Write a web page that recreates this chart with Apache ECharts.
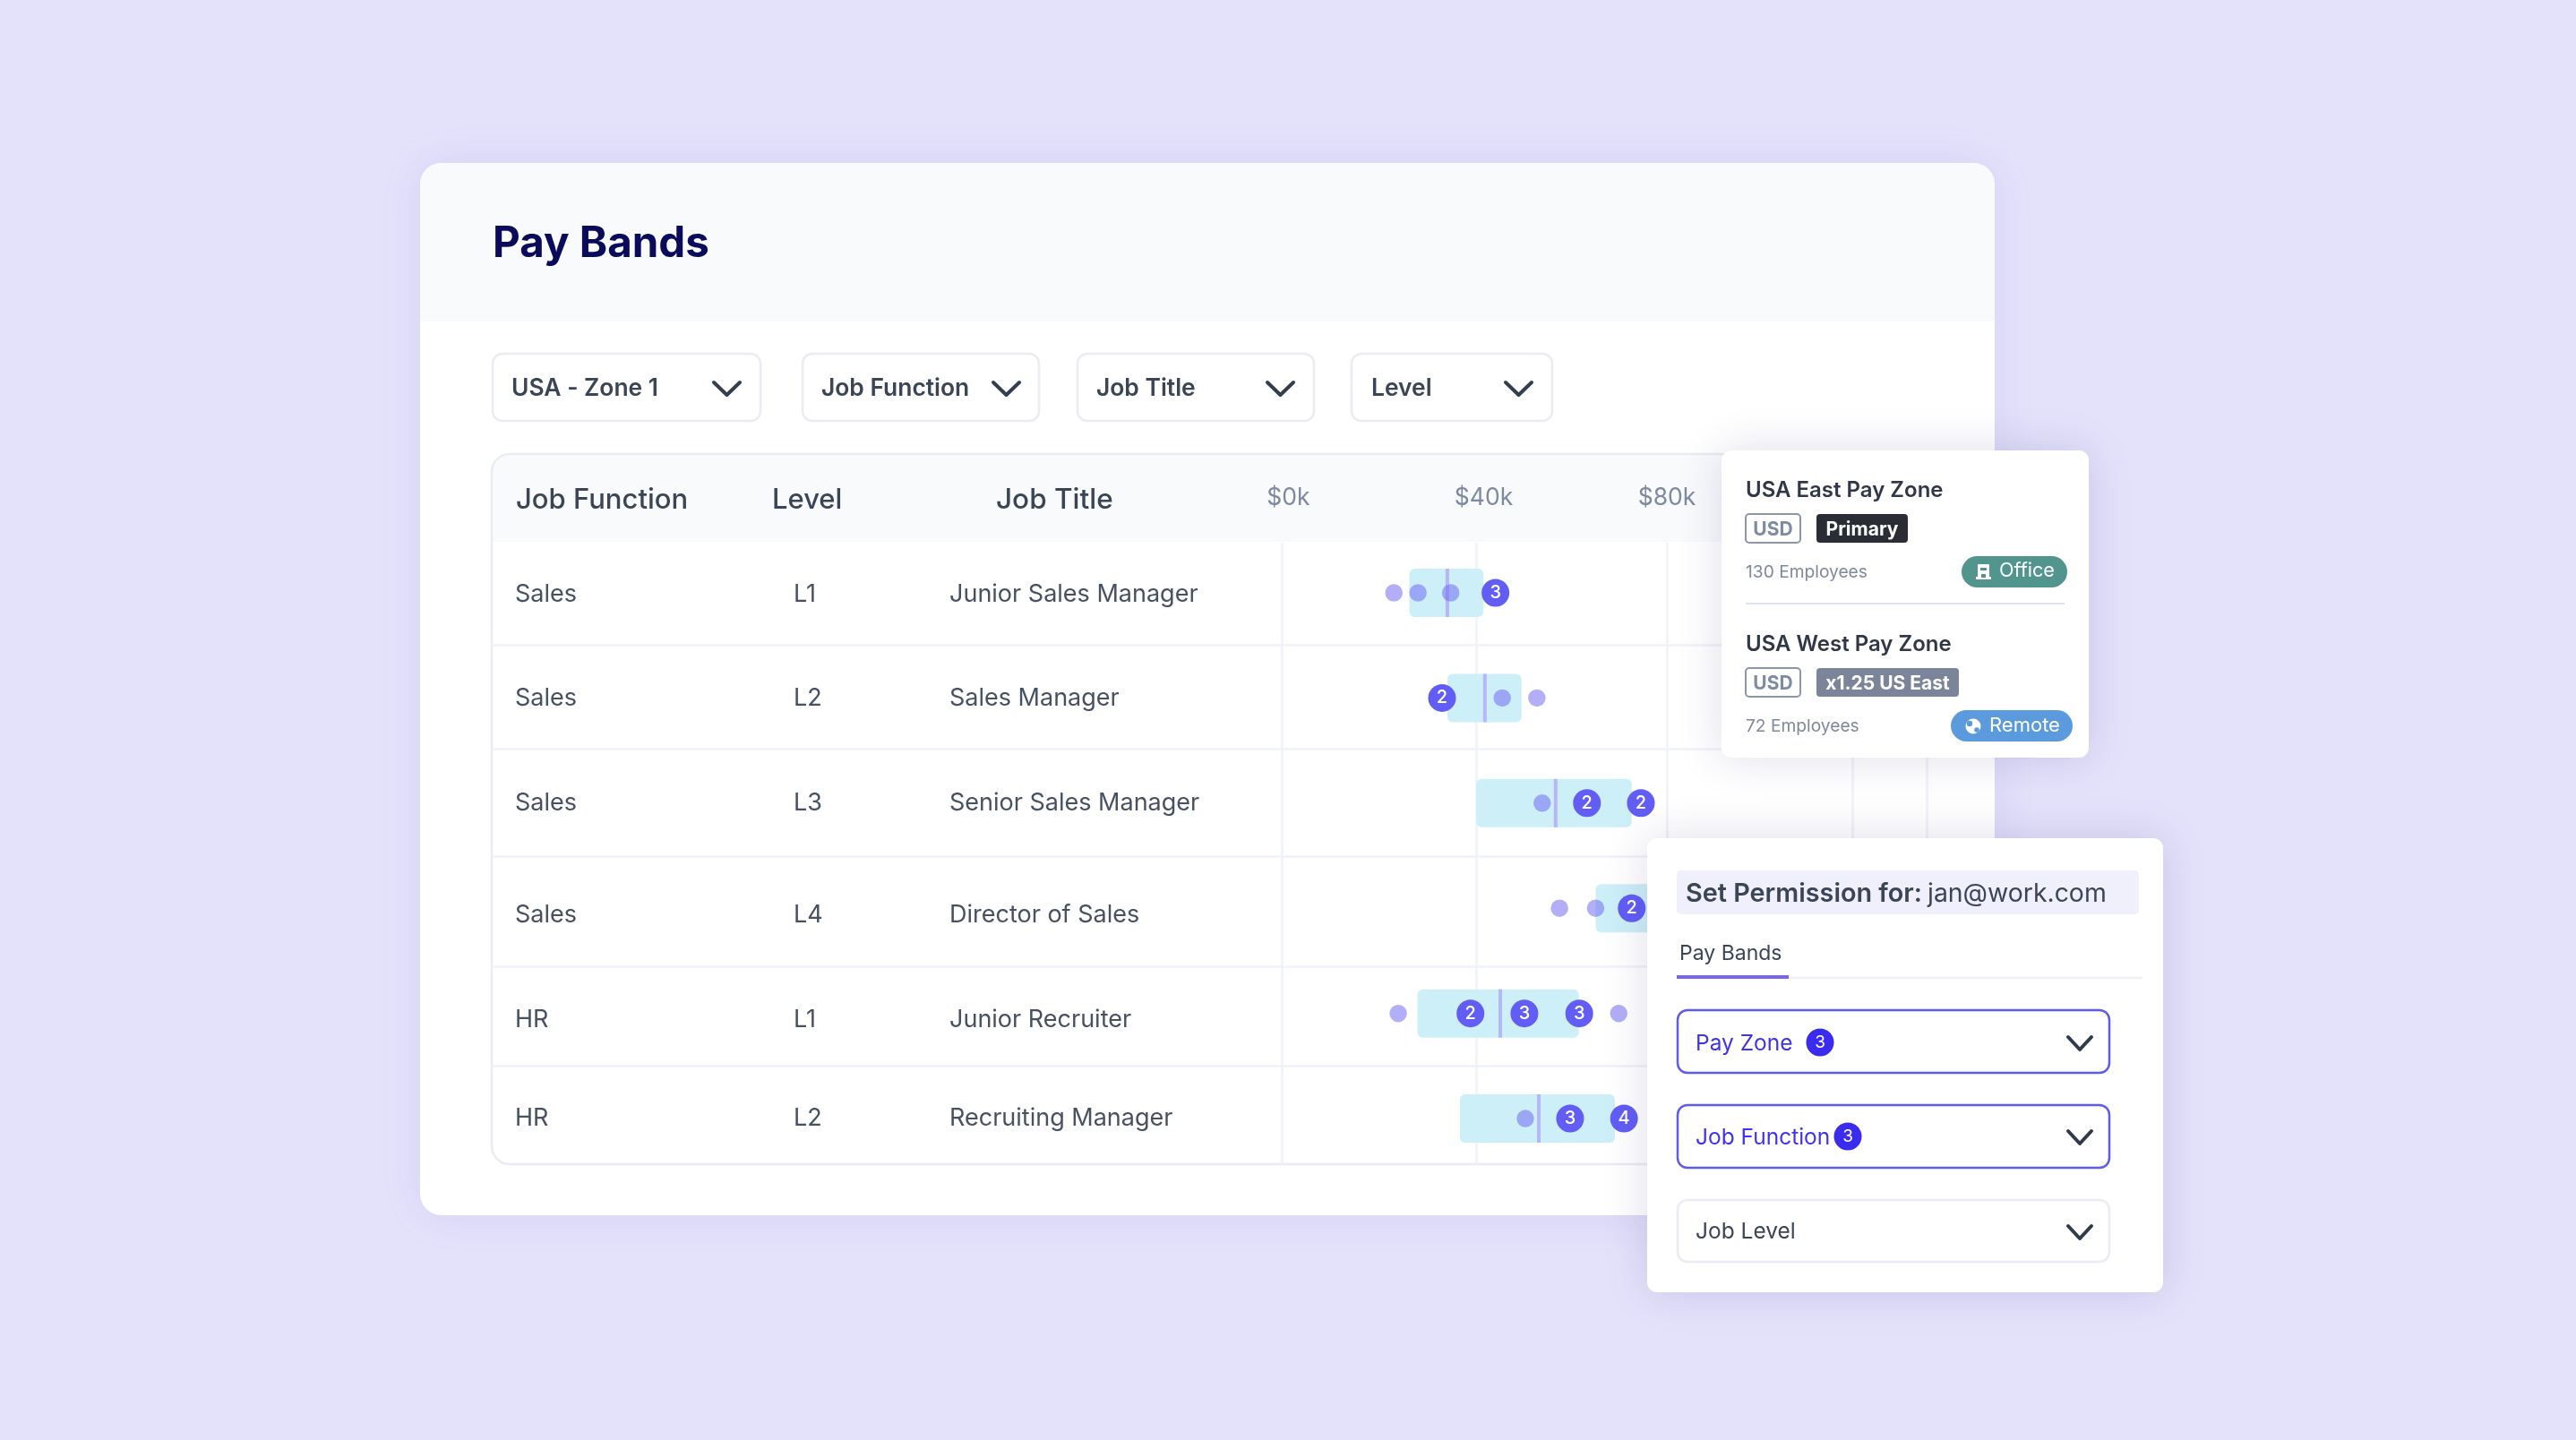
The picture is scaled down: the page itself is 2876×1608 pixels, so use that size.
<!DOCTYPE html>
<html>
<head>
<meta charset="utf-8">
<title>Pay Bands</title>
<style>
    html, body { margin: 0; padding: 0; background: #E4E2FB; }
    #chart { width: 2876px; height: 1608px; }
</style>
<script src="https://cdn.jsdelivr.net/npm/echarts@6/dist/echarts.min.js"></script>
</head>
<body>
<div id="chart"></div>
<script>
// table content
const jobFunctions = ['Sales', 'Sales', 'Sales', 'Sales', 'HR', 'HR'];
const levels = ['L1', 'L2', 'L3', 'L4', 'L1', 'L2'];
const jobTitles = ['Junior Sales Manager', 'Sales Manager', 'Senior Sales Manager', 'Director of Sales', 'Junior Recruiter', 'Recruiting Manager'];

// pay values in $k, one entry per row
const bandLow = [26.5, 34.4, 40.4, 65.2, 28.2, 37.0];
const bandHigh = [41.9, 49.8, 72.7, 97.5, 61.7, 69.2];
const medians = [34.4, 42.2, 56.9, 81.7, 45.4, 53.4];

// [value, row]
const singleDots = [[23.3, 0], [28.3, 0], [35.1, 0], [45.8, 1], [53.0, 1], [54.1, 2], [57.7, 3], [65.2, 3], [24.2, 4], [70.0, 4], [50.6, 5]];
// [value, row, count]
const countDots = [[44.4, 0, 3], [33.3, 1, 2], [63.4, 2, 2], [74.6, 2, 2], [72.7, 3, 2], [39.2, 4, 2], [50.4, 4, 3], [61.8, 4, 3], [59.9, 5, 3], [71.1, 5, 4]];

const xTicks = [0, 40, 80];
const xGridLines = [0, 40.5, 80, 118.5, 134];
const rowLines = [0.5, 1.475, 2.51, 3.55, 4.5];

const FONT = 'Inter, "Noto Sans", sans-serif';
const INK = '#3A4556';

let elements = [];
let order = 0;

function box(x1, y1, x2, y2, style, r, z) {
    elements.push({
        type: 'rect', z: z, z2: order++, silent: true,
        shape: { x: x1, y: y1, width: x2 - x1, height: y2 - y1, r: r || 0 },
        style: style
    });
}

function txt(x, y, text, font, color, z, align) {
    elements.push({
        type: 'text', z: z, z2: order++, silent: true,
        style: { x: x, y: y + 1.5, text: text, font: font + ' ' + FONT, fill: color, align: align || 'left', verticalAlign: 'middle' }
    });
}

function line(x1, y1, x2, y2, color, width, z) {
    elements.push({
        type: 'line', z: z, z2: order++, silent: true,
        shape: { x1: x1, y1: y1, x2: x2, y2: y2 },
        style: { stroke: color, lineWidth: width }
    });
}

function chevron(x1, x2, y, color, z) {
    elements.push({
        type: 'polyline', z: z, z2: order++, silent: true,
        shape: { points: [[x1, y - 7], [(x1 + x2) / 2, y + 7], [x2, y - 7]] },
        style: { stroke: color, lineWidth: 4, fill: null, lineCap: 'round', lineJoin: 'round' }
    });
}

function disc(cx, cy, r, color, z) {
    elements.push({
        type: 'circle', z: z, z2: order++, silent: true,
        shape: { cx: cx, cy: cy, r: r },
        style: { fill: color }
    });
}

function corner(cx, cy, r, start, end, color, width, z) {
    elements.push({
        type: 'arc', z: z, z2: order++, silent: true,
        shape: { cx: cx, cy: cy, r: r, startAngle: start, endAngle: end, clockwise: true },
        style: { stroke: color, lineWidth: width, fill: null }
    });
}

function drawCard() {
    box(469, 182, 2227, 1357, { fill: '#FFFFFF', shadowBlur: 50, shadowColor: 'rgba(70,60,170,0.09)' }, 24, 0);
    box(469, 182, 2227, 359, { fill: '#F9FAFC' }, [24, 24, 0, 0], 0);
    txt(550, 271.5, 'Pay Bands', '700 47.5px', '#0B0B5C', 0);

    let filters = [
        { x1: 550, x2: 849, label: 'USA - Zone 1', tx: 571, cx: 797 },
        { x1: 896, x2: 1160, label: 'Job Function', tx: 917, cx: 1109 },
        { x1: 1203, x2: 1467, label: 'Job Title', tx: 1224, cx: 1415 },
        { x1: 1509, x2: 1733, label: 'Level', tx: 1531, cx: 1681 }
    ];
    filters.forEach(function (f) {
        box(f.x1, 395, f.x2, 470, { fill: '#FFFFFF', stroke: '#E9ECF3', lineWidth: 2.5 }, 11, 0);
        txt(f.tx, 432.5, f.label, '600 26.4px', INK, 0);
        chevron(f.cx, f.cx + 29, 434, '#333E4E', 0);
    });

    // table frame, its right end is hidden by the two popups
    box(549, 507, 1960, 605, { fill: '#F9FAFC' }, [20, 0, 0, 0], 0);
    let frame = '#E9ECF3';
    line(569, 507, 1960, 507, frame, 2.5, 0);
    line(549, 527, 549, 1280, frame, 2.5, 0);
    line(569, 1300, 1900, 1300, frame, 2.5, 0);
    corner(569, 527, 20, Math.PI, Math.PI * 1.5, frame, 2.5, 0);
    corner(569, 1280, 20, Math.PI * 0.5, Math.PI, frame, 2.5, 0);

    txt(576, 557, 'Job Function', '500 31px', INK, 0);
    txt(862, 557, 'Level', '500 31px', INK, 0);
    txt(1112, 557, 'Job Title', '500 31.5px', INK, 0);

    let rowTextY = [662, 778, 895, 1020, 1137, 1247];
    rowTextY.forEach(function (y, i) {
        txt(575, y, jobFunctions[i], '400 27px', '#465162', 0);
        txt(886, y, levels[i], '400 27px', '#465162', 0);
        txt(1060, y, jobTitles[i], '400 27px', '#465162', 0);
    });
}

function tag(x1, x2, y1, label, fill, color, border, z) {
    let style = border ? { fill: '#FFFFFF', stroke: border, lineWidth: 2 } : { fill: fill };
    box(x1, y1, x2, y1 + 32, style, 4, z);
    txt((x1 + x2) / 2, y1 + 16, label, '700 21px', color, z, 'center');
}

function drawZonePopup() {
    let z = 50;
    box(1922, 503, 2332, 846, { fill: '#FFFFFF', shadowBlur: 50, shadowColor: 'rgba(50,45,120,0.16)' }, 11, z);

    txt(1949, 546, 'USA East Pay Zone', '600 24px', '#2F3848', z);
    tag(1949, 2010, 574, 'USD', null, '#7E8BA3', '#8A96AE', z);
    tag(2028, 2130, 574, 'Primary', '#2A2D36', '#FFFFFF', null, z);
    txt(1949, 638, '130 Employees', '400 19.2px', '#7D899C', z);
    box(2190, 621, 2308, 656, { fill: '#52958F' }, 17.5, z);
    box(2208, 630, 2221, 645, { fill: '#FFFFFF' }, 1, z);
    box(2206, 644, 2223, 647, { fill: '#FFFFFF' }, 0, z);
    box(2211, 634, 2218, 637, { fill: '#52958F' }, 0, z);
    box(2212, 641, 2217, 645, { fill: '#52958F' }, 0, z);
    txt(2232, 636, 'Office', '400 21.6px', '#FFFFFF', z);

    line(1949, 674, 2305, 674, '#DDE3EE', 2, z);

    txt(1949, 718, 'USA West Pay Zone', '600 24px', '#2F3848', z);
    tag(1949, 2010, 746, 'USD', null, '#7E8BA3', '#8A96AE', z);
    tag(2028, 2187, 746, 'x1.25 US East', '#7C8499', '#FFFFFF', null, z);
    txt(1949, 810, '72 Employees', '400 19.2px', '#7D899C', z);
    box(2178, 793, 2314, 828, { fill: '#5B9ADD' }, 17.5, z);
    disc(2203, 811, 8.5, '#FFFFFF', z);
    disc(2199, 808, 3.2, '#5B9ADD', z);
    disc(2207, 815, 2.8, '#5B9ADD', z);
    txt(2221, 809, 'Remote', '400 22px', '#FFFFFF', z);
}

function drawPermissionPopup() {
    let z = 60;
    box(1839, 936, 2415, 1443, { fill: '#FFFFFF', shadowBlur: 50, shadowColor: 'rgba(50,45,120,0.16)' }, 11, z);

    box(1872, 972, 2388, 1021, { fill: '#F0EFFC' }, 5, z);
    txt(1882, 997, 'Set Permission for:', '600 28.8px', INK, z);
    txt(2152, 997, 'jan@work.com', '400 28.4px', INK, z);

    txt(1875, 1064, 'Pay Bands', '400 23px', INK, z);
    line(1872, 1092, 2392, 1092, '#EFF1F7', 2.5, z);
    line(1872, 1091, 1997, 1091, '#7A63F1', 4, z);

    let purple = '#5D5CF0';
    let blue = '#3F32F0';
    box(1873, 1128, 2355, 1198, { fill: '#FFFFFF', stroke: purple, lineWidth: 2.5 }, 11, z);
    txt(1893, 1164, 'Pay Zone', '400 24.5px', blue, z);
    disc(2032, 1164, 15.5, '#3A2BEE', z);
    txt(2032, 1163, '3', '400 19px', '#FFFFFF', z, 'center');
    chevron(2309, 2335, 1165, '#2F3A4A', z);

    box(1873, 1234, 2355, 1304, { fill: '#FFFFFF', stroke: purple, lineWidth: 2.5 }, 11, z);
    txt(1893, 1269, 'Job Function', '400 24.5px', blue, z);
    disc(2063, 1269, 15.5, '#3A2BEE', z);
    txt(2063, 1268, '3', '400 19px', '#FFFFFF', z, 'center');
    chevron(2309, 2335, 1270, '#2F3A4A', z);

    box(1873, 1340, 2355, 1409, { fill: '#FFFFFF', stroke: '#E9ECF3', lineWidth: 2.5 }, 11, z);
    txt(1893, 1374, 'Job Level', '400 24.5px', INK, z);
    chevron(2309, 2335, 1376, '#2F3A4A', z);
}

function drawChart() {
    let my_chart = echarts.init(document.getElementById('chart'));

    drawCard();
    drawZonePopup();
    drawPermissionPopup();

    let band_data = bandLow.map(function (low, i) {
        return [low, bandHigh[i], i];
    });
    let median_data = medians.map(function (val, i) {
        return [val, i];
    });

    let tick_style = { color: '#7E8AA0', fontSize: 26.5 };

    let option = {
        backgroundColor: '#E4E2FB',
        animation: false,
        textStyle: { fontFamily: FONT },
        grid: { left: 549.5, right: 649.5, top: 606, bottom: 308 },
        xAxis: {
            type: 'value',
            position: 'top',
            min: -164,
            max: 148,
            z: 3,
            axisLine: { show: false },
            axisTick: { show: false },
            splitLine: { show: false },
            axisLabel: {
                customValues: xTicks,
                formatter: function (val) { return '{t' + val + '|$' + val + 'k}'; },
                margin: 36.5,
                // the tick labels do not sit exactly over their lines in the picture
                rich: {
                    t0: Object.assign({ padding: [0, 0, 0, 15] }, tick_style),
                    t40: Object.assign({ padding: [0, 0, 0, 21] }, tick_style),
                    t80: Object.assign({ padding: [0, 0, 0, 0] }, tick_style)
                }
            }
        },
        yAxis: {
            type: 'value',
            inverse: true,
            min: -0.477,
            max: 5.434,
            show: false,
            splitLine: { show: false }
        },
        graphic: { elements: elements },
        series: [
            {
                name: 'Table lines',
                type: 'scatter',
                data: [],
                z: 1,
                markLine: {
                    z: 1,
                    silent: true,
                    symbol: 'none',
                    animation: false,
                    label: { show: false },
                    lineStyle: { color: '#EFF2F8', width: 2.5, type: 'solid' },
                    data: xGridLines.map(v => ({ xAxis: v })).concat(rowLines.map(v => ({ yAxis: v })))
                }
            },
            {
                name: 'Pay band',
                type: 'custom',
                z: 2,
                data: band_data,
                encode: { x: [0, 1], y: 2 },
                renderItem: function (params, api) {
                    let start = api.coord([api.value(0), api.value(2)]);
                    let end = api.coord([api.value(1), api.value(2)]);
                    return {
                        type: 'rect',
                        shape: { x: start[0], y: start[1] - 27, width: end[0] - start[0], height: 54, r: 6 },
                        style: { fill: '#CDEFF8' }
                    };
                }
            },
            {
                name: 'Median',
                type: 'scatter',
                z: 3,
                symbol: 'rect',
                symbolSize: [4, 54],
                itemStyle: { color: '#B7B6F8', opacity: 1 },
                data: median_data
            },
            {
                name: 'Employee',
                type: 'scatter',
                z: 4,
                symbolSize: 19.5,
                itemStyle: { color: 'rgba(115,108,240,0.55)', opacity: 1 },
                data: singleDots
            },
            {
                name: 'Employees',
                type: 'scatter',
                z: 5,
                symbolSize: 31,
                itemStyle: { color: '#625DF5', opacity: 1 },
                label: {
                    show: true,
                    position: 'inside',
                    formatter: function (p) { return p.value[2]; },
                    color: '#FFFFFF',
                    fontSize: 20,
                    fontWeight: 500
                },
                data: countDots
            }
        ]
    };

    my_chart.setOption(option);
}

drawChart();
</script>
</body>
</html>
